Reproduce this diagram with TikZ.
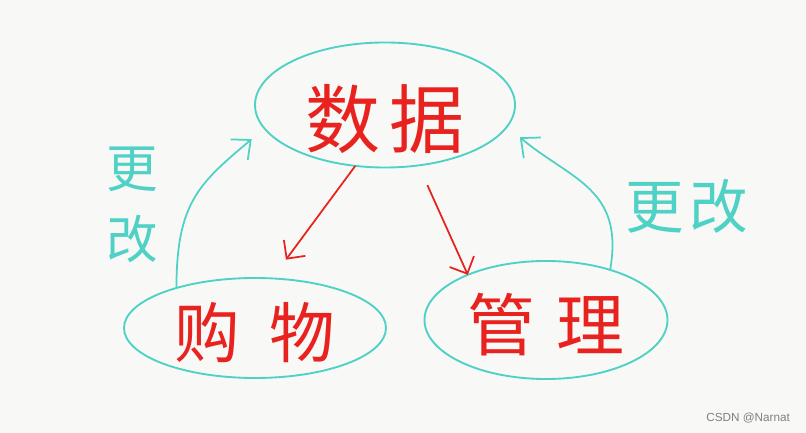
\documentclass[tikz,border=0pt]{standalone}
\usepackage{fontspec}
\newfontfamily\cjk{Noto Sans CJK SC}
\newfontfamily\wmfont{Liberation Sans}
\usepackage{tikz}
\usetikzlibrary{positioning, arrows.meta, shapes.geometric}
\usepackage{xcolor}
\definecolor{penred}{HTML}{E8231F}
\definecolor{pencyan}{HTML}{4FD1C5}
\definecolor{paper}{HTML}{F8F8F6}

\begin{document}
\begin{tikzpicture}[
    x=0.03cm, y=-0.03cm,
    blob/.style={ellipse, draw=pencyan, line width=1.6pt, inner sep=0pt, outer sep=0pt,
                 text=penred, font=\cjk\fontsize{60}{62}\selectfont},
    note/.style={text=pencyan, font=\cjk\fontsize{44}{60}\selectfont, align=center},
    redarrow/.style={draw=penred, line width=1.5pt, -{Straight Barb[length=0.4cm, width=0.8cm]}},
    cyanarrow/.style={draw=pencyan, line width=1.5pt, -{Straight Barb[length=0.45cm, width=0.8cm]}}
]
\fill[paper] (0,0) rectangle (806,433);
\node[blob, minimum width=7.8cm, minimum height=3.75cm, font=\cjk\fontsize{64}{66}\selectfont] (data) at (385,105)
    {\raisebox{-36pt}[0pt][0pt]{数\hspace{0.12em}据}};
\node[blob, minimum width=7.86cm, minimum height=3cm, font=\cjk\fontsize{56}{58}\selectfont] (shop) at (255,328)
    {\raisebox{-25pt}[0pt][0pt]{购\hspace{0.45em}物}};
\node[blob, minimum width=7.29cm, minimum height=3.54cm, font=\cjk\fontsize{58}{60}\selectfont] (admin) at (546,320)
    {\raisebox{-26pt}[0pt][0pt]{管\hspace{0.3em}理}};

\node[note] (editL) at (132,205) {更\\改};
\node[note, font=\cjk\fontsize{50}{50}\selectfont] (editR) at (687,206) {更\hspace{0.1em}改};

\draw[redarrow, shorten >=0.7cm] (data.244) -- (shop.71);
\draw[redarrow, shorten <=0.65cm] (data.299) -- (admin.150);
\draw[cyanarrow, shorten >=0.5cm] (shop.153) to[out=90, in=220, looseness=1.2] (data.191);
\draw[cyanarrow, shorten >=0.5cm] (admin.38) to[out=80, in=-40, looseness=1.2] (data.350);

\node[text=black!50, font=\wmfont\fontsize{10}{12}\selectfont, anchor=east] (mark) at (794,418) {CSDN @Narnat};
\end{tikzpicture}
\end{document}
